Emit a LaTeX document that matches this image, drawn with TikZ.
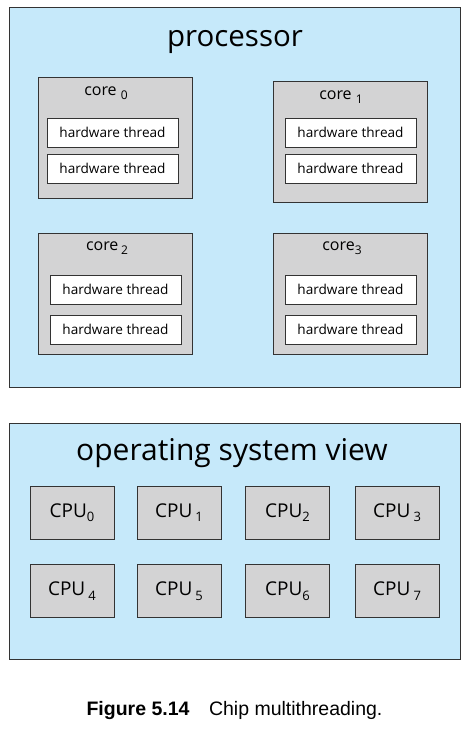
\documentclass[tikz,border=0pt]{standalone}
\usepackage{fontspec}
\setmainfont{Open Sans}
\newfontfamily\capfont{Liberation Sans}
\usepackage{xcolor}
\usepackage{tikz}
\usetikzlibrary{positioning}

% lowered index in the text font
\newcommand{\lowidx}[2][13]{\raisebox{-0.45ex}{\fontsize{#1}{#1}\selectfont #2}}

\begin{document}
\begin{tikzpicture}[x=1pt, y=-1pt,
    outerbox/.style={draw=black!80, line width=0.8pt, fill=skyblue, minimum width=451pt, inner sep=0pt},
    corebox/.style={draw=black!80, line width=0.8pt, fill=chipgray, minimum width=154pt, minimum height=121pt, inner sep=0pt},
    hwbox/.style={draw=black!80, line width=0.8pt, fill=white, minimum width=131pt, minimum height=29pt, inner sep=0pt, font=\fontsize{13.6}{14}\selectfont},
    cpubox/.style={draw=black!80, line width=0.8pt, fill=chipgray, minimum width=84pt, minimum height=53pt, inner sep=0pt, font=\fontsize{19}{20}\selectfont},
    corelabel/.style={font=\fontsize{16}{17}\selectfont, inner sep=0pt}]

        % Define colors for the boxes
        \definecolor{skyblue}{RGB}{198,233,250}
        \definecolor{chipgray}{RGB}{211,211,212}

        \useasboundingbox (0,0) rectangle (474,736);

        % The processor with its four cores
        \node[outerbox, minimum height=380pt] (proc) at (234.5,197) {};
        \node[font=\fontsize{29.5}{30}\selectfont] (proctitle) at (235,42) {processor};

        \node[corebox] (core0) at (115,137.5) {};
        \node[corelabel] (core0lbl) at (106,93) {core \lowidx[12]{0}};
        \node[hwbox] (hw0a) at (112.5,132.5) {hardware thread};
        \node[hwbox] (hw0b) at (112.5,168.5) {hardware thread};

        \node[corebox] (core1) at (350,141.5) {};
        \node[corelabel] (core1lbl) at (341,97) {core \lowidx[12]{1}};
        \node[hwbox] (hw1a) at (350.5,132.5) {hardware thread};
        \node[hwbox] (hw1b) at (350.5,168.5) {hardware thread};

        \node[corebox] (core2) at (115,293.5) {};
        \node[corelabel] (core2lbl) at (107,248) {core\,\lowidx[12]{2}};
        \node[hwbox] (hw2a) at (115.5,289.5) {hardware thread};
        \node[hwbox] (hw2b) at (115.5,329.5) {hardware thread};

        \node[corebox] (core3) at (350,293.5) {};
        \node[corelabel] (core3lbl) at (342,248) {core\lowidx[12]{3}};
        \node[hwbox] (hw3a) at (350.5,289.5) {hardware thread};
        \node[hwbox] (hw3b) at (350.5,329.5) {hardware thread};

        % What the operating system sees
        \node[outerbox, minimum height=236pt] (osview) at (234.5,541) {};
        \node[font=\fontsize{30}{31}\selectfont] (ostitle) at (232,453) {operating system view};

        \node[cpubox] (cpu0) at (72,512.5) {CPU\lowidx{0}};
        \node[cpubox] (cpu1) at (179,512.5) {CPU\,\lowidx{1}};
        \node[cpubox] (cpu2) at (287.5,512.5) {CPU\lowidx{2}};
        \node[cpubox] (cpu3) at (397,512.5) {\raisebox{3pt}{CPU\,\lowidx{3}}};
        \node[cpubox] (cpu4) at (72,591) {CPU\,\lowidx{4}};
        \node[cpubox] (cpu5) at (179,591) {CPU\,\lowidx{5}};
        \node[cpubox] (cpu6) at (287.5,591) {CPU\lowidx{6}};
        \node[cpubox] (cpu7) at (397,591) {CPU\,\lowidx{7}};

        % Caption
        \node[font=\capfont\fontsize{19.5}{20}\selectfont] (caption) at (234.5,710) {\textbf{Figure 5.14}\quad Chip multithreading.};

    \end{tikzpicture}
\end{document}
